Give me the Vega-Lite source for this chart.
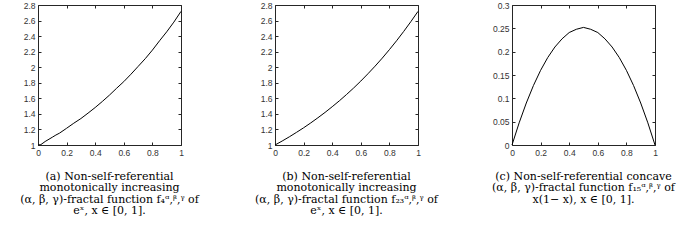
{
  "$schema": "https://vega.github.io/schema/vega-lite/v6.json",
  "autosize": {"type": "pad"},
  "padding": {"left": 18, "top": 1, "right": 0, "bottom": 0},
  "background": "white",
  "bounds": "flush",
  "spacing": 94,
  "config": {
    "view": {"stroke": null},
    "axis": {
      "domainColor": "#262626",
      "tickColor": "#262626",
      "tickSize": -3,
      "labelPadding": 6,
      "labelFont": "Liberation Sans",
      "labelFontSize": 8.5,
      "labelColor": "#333333",
      "grid": false,
      "title": null,
      "format": "~g",
      "labelFlush": false,
      "labelOverlap": false
    },
    "title": {
      "orient": "bottom",
      "anchor": "middle",
      "offset": 14,
      "baseline": "top",
      "font": "DejaVu Serif",
      "fontSize": 11,
      "fontWeight": "normal",
      "lineHeight": 11.5,
      "color": "black"
    }
  },
  "datasets": {
    "a": [
      {"x": 0, "y": 1.0}, {"x": 0.02, "y": 1.005}, {"x": 0.05, "y": 1.045}, {"x": 0.1, "y": 1.1}, {"x": 0.125, "y": 1.128},
      {"x": 0.15, "y": 1.152}, {"x": 0.2, "y": 1.215}, {"x": 0.25, "y": 1.28}, {"x": 0.3, "y": 1.34},
      {"x": 0.35, "y": 1.41}, {"x": 0.4, "y": 1.482}, {"x": 0.45, "y": 1.56}, {"x": 0.5, "y": 1.642},
      {"x": 0.55, "y": 1.73}, {"x": 0.6, "y": 1.815}, {"x": 0.65, "y": 1.91}, {"x": 0.7, "y": 2.01},
      {"x": 0.75, "y": 2.11}, {"x": 0.8, "y": 2.22}, {"x": 0.85, "y": 2.34}, {"x": 0.9, "y": 2.455},
      {"x": 0.95, "y": 2.58}, {"x": 1.0, "y": 2.718}
    ],
    "b": [
      {"x": 0, "y": 1.0}, {"x": 0.05, "y": 1.051}, {"x": 0.1, "y": 1.105}, {"x": 0.15, "y": 1.162},
      {"x": 0.2, "y": 1.221}, {"x": 0.25, "y": 1.284}, {"x": 0.3, "y": 1.35}, {"x": 0.35, "y": 1.419},
      {"x": 0.4, "y": 1.492}, {"x": 0.45, "y": 1.568}, {"x": 0.5, "y": 1.649}, {"x": 0.55, "y": 1.733},
      {"x": 0.6, "y": 1.822}, {"x": 0.65, "y": 1.916}, {"x": 0.7, "y": 2.014}, {"x": 0.75, "y": 2.117},
      {"x": 0.8, "y": 2.226}, {"x": 0.85, "y": 2.34}, {"x": 0.9, "y": 2.46}, {"x": 0.95, "y": 2.586},
      {"x": 1.0, "y": 2.718}
    ],
    "c": [
      {"x": 0, "y": 0}, {"x": 0.05, "y": 0.0475}, {"x": 0.1, "y": 0.09}, {"x": 0.15, "y": 0.1275},
      {"x": 0.2, "y": 0.16}, {"x": 0.25, "y": 0.1875}, {"x": 0.3, "y": 0.21}, {"x": 0.35, "y": 0.2275},
      {"x": 0.4, "y": 0.241}, {"x": 0.45, "y": 0.248}, {"x": 0.5, "y": 0.252}, {"x": 0.55, "y": 0.248},
      {"x": 0.6, "y": 0.241}, {"x": 0.65, "y": 0.2275}, {"x": 0.7, "y": 0.21}, {"x": 0.75, "y": 0.1875},
      {"x": 0.8, "y": 0.16}, {"x": 0.85, "y": 0.1275}, {"x": 0.9, "y": 0.09}, {"x": 0.95, "y": 0.0475},
      {"x": 1.0, "y": 0}
    ]
  },
  "hconcat": [
    {
      "width": 143, "height": 140,
      "data": {"name": "a"},
      "title": {"text": ["(a)  Non-self-referential", "monotonically increasing", "(α, β, γ)-fractal function f₄ᵅ,ᵝ,ᵞ  of", "eˣ, x ∈ [0, 1]."]},
      "layer": [
        {
          "mark": {"type": "line", "color": "black", "strokeWidth": 1},
          "encoding": {
            "x": {"field": "x", "type": "quantitative", "scale": {"domain": [0, 1], "nice": false}, "axis": {"orient": "bottom", "values": [0, 0.2, 0.4, 0.6, 0.8, 1]}},
            "y": {"field": "y", "type": "quantitative", "scale": {"domain": [1, 2.8], "nice": false, "zero": false}, "axis": {"orient": "left", "values": [1, 1.2, 1.4, 1.6, 1.8, 2, 2.2, 2.4, 2.6, 2.8]}}
          }
        },
        {
          "mark": {"type": "line", "opacity": 0},
          "encoding": {
            "x": {"field": "x", "type": "quantitative", "axis": {"orient": "top", "labels": false, "values": [0, 0.2, 0.4, 0.6, 0.8, 1]}},
            "y": {"field": "y", "type": "quantitative", "axis": {"orient": "right", "labels": false, "values": [1, 1.2, 1.4, 1.6, 1.8, 2, 2.2, 2.4, 2.6, 2.8]}}
          }
        }
      ],
      "resolve": {"axis": {"x": "independent", "y": "independent"}}
    },
    {
      "width": 143, "height": 140,
      "data": {"name": "b"},
      "title": {"text": ["(b)  Non-self-referential", "monotonically increasing", "(α, β, γ)-fractal function f₂₃ᵅ,ᵝ,ᵞ  of", "eˣ, x ∈ [0, 1]."]},
      "layer": [
        {
          "mark": {"type": "line", "color": "black", "strokeWidth": 1},
          "encoding": {
            "x": {"field": "x", "type": "quantitative", "scale": {"domain": [0, 1], "nice": false}, "axis": {"orient": "bottom", "values": [0, 0.2, 0.4, 0.6, 0.8, 1]}},
            "y": {"field": "y", "type": "quantitative", "scale": {"domain": [1, 2.8], "nice": false, "zero": false}, "axis": {"orient": "left", "values": [1, 1.2, 1.4, 1.6, 1.8, 2, 2.2, 2.4, 2.6, 2.8]}}
          }
        },
        {
          "mark": {"type": "line", "opacity": 0},
          "encoding": {
            "x": {"field": "x", "type": "quantitative", "axis": {"orient": "top", "labels": false, "values": [0, 0.2, 0.4, 0.6, 0.8, 1]}},
            "y": {"field": "y", "type": "quantitative", "axis": {"orient": "right", "labels": false, "values": [1, 1.2, 1.4, 1.6, 1.8, 2, 2.2, 2.4, 2.6, 2.8]}}
          }
        }
      ],
      "resolve": {"axis": {"x": "independent", "y": "independent"}}
    },
    {
      "width": 143, "height": 140,
      "data": {"name": "c"},
      "title": {"text": ["(c)  Non-self-referential concave", "(α, β, γ)-fractal function f₁₅ᵅ,ᵝ,ᵞ  of", "x(1− x), x ∈ [0, 1]."]},
      "layer": [
        {
          "mark": {"type": "line", "color": "black", "strokeWidth": 1},
          "encoding": {
            "x": {"field": "x", "type": "quantitative", "scale": {"domain": [0, 1], "nice": false}, "axis": {"orient": "bottom", "values": [0, 0.2, 0.4, 0.6, 0.8, 1]}},
            "y": {"field": "y", "type": "quantitative", "scale": {"domain": [0, 0.3], "nice": false}, "axis": {"orient": "left", "values": [0, 0.05, 0.1, 0.15, 0.2, 0.25, 0.3]}}
          }
        },
        {
          "mark": {"type": "line", "opacity": 0},
          "encoding": {
            "x": {"field": "x", "type": "quantitative", "axis": {"orient": "top", "labels": false, "values": [0, 0.2, 0.4, 0.6, 0.8, 1]}},
            "y": {"field": "y", "type": "quantitative", "axis": {"orient": "right", "labels": false, "values": [0, 0.05, 0.1, 0.15, 0.2, 0.25, 0.3]}}
          }
        }
      ],
      "resolve": {"axis": {"x": "independent", "y": "independent"}}
    }
  ]
}
